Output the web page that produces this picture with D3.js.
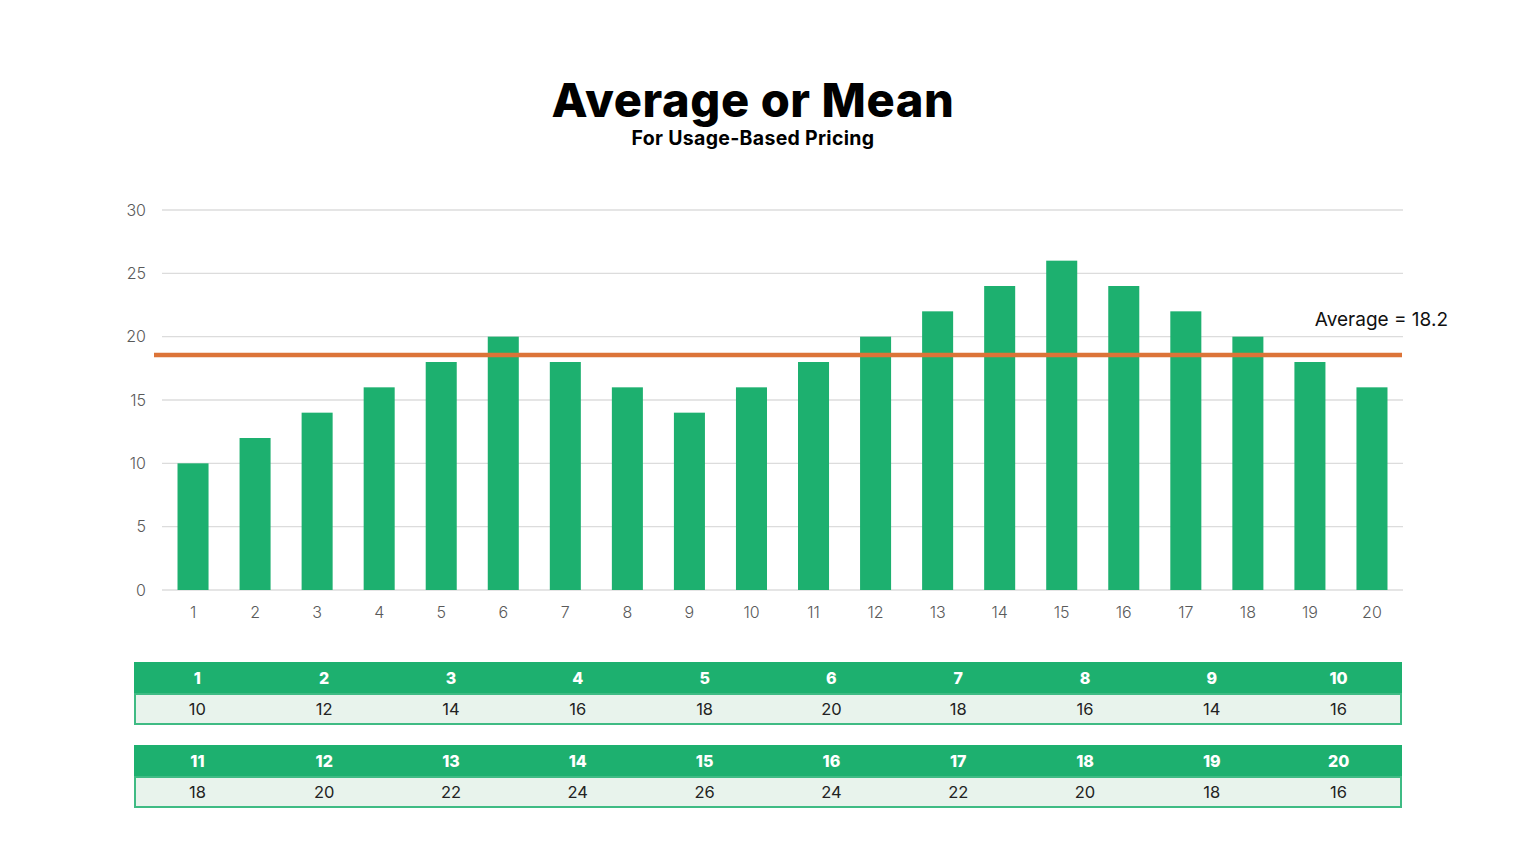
<!DOCTYPE html>
<html>
<head>
<meta charset="utf-8">
<script src="https://cdn.jsdelivr.net/npm/d3@7"></script>
<style>
  body { margin: 0; background: #fff; }
  svg { display: block; font-family: "Inter", "Noto Sans", sans-serif; }
</style>
</head>
<body>
<svg id="chart" width="1536" height="864"></svg>
<script>
// data
var periods = [1, 2, 3, 4, 5, 6, 7, 8, 9, 10, 11, 12, 13, 14, 15, 16, 17, 18, 19, 20];
var usage = [10, 12, 14, 16, 18, 20, 18, 16, 14, 16, 18, 20, 22, 24, 26, 24, 22, 20, 18, 16];
var yTicks = [0, 5, 10, 15, 20, 25, 30];
var avgLinePos = 18.55;          // where the orange line sits on the chart
var avgLabel = "Average = 18.2"; // label as printed
var titleText = "Average or Mean";
var subtitleText = "For Usage-Based Pricing";

var green = "#1db06f", orange = "#dc7438", gridCol = "#dcdcdc", tickCol = "#5a5a5a";

var svg = d3.select("#chart");

// titles
svg.append("text")
    .attr("x", 753).attr("y", 117)
    .attr("text-anchor", "middle")
    .style("font-size", "47px").style("font-weight", 800)
    .style("letter-spacing", "0.6px")
    .text(titleText);
svg.append("text")
    .attr("x", 753).attr("y", 145)
    .attr("text-anchor", "middle")
    .style("font-size", "19.5px").style("font-weight", 700)
    .style("letter-spacing", "0.3px")
    .text(subtitleText);

/**************************** BAR CHART ****************************/
var x = d3.scaleBand().domain(periods).range([162, 1403]).paddingInner(0.5).paddingOuter(0.25),
    y = d3.scaleLinear().domain([0, 30]).range([590, 210]);

// gridlines
svg.append("g")
    .selectAll("line")
    .data(yTicks)
  .enter().append("line")
    .attr("x1", 162).attr("x2", 1403)
    .attr("y1", function(d) { return y(d); })
    .attr("y2", function(d) { return y(d); })
    .style("stroke", gridCol).style("stroke-width", 1.3);

// y labels
svg.append("g")
    .selectAll("text")
    .data(yTicks)
  .enter().append("text")
    .attr("x", 146)
    .attr("y", function(d) { return y(d); })
    .attr("dy", "0.35em")
    .attr("text-anchor", "end")
    .style("font-size", "16px").style("font-weight", 300).style("fill", tickCol)
    .text(function(d) { return d; });

// bars
svg.append("g")
    .selectAll("rect")
    .data(usage)
  .enter().append("rect")
    .attr("x", function(d, i) { return x(periods[i]); })
    .attr("y", function(d) { return y(d); })
    .attr("width", x.bandwidth())
    .attr("height", function(d) { return y(0) - y(d); })
    .style("fill", green);

// x labels
svg.append("g")
    .selectAll("text")
    .data(periods)
  .enter().append("text")
    .attr("x", function(d) { return x(d) + x.bandwidth() / 2; })
    .attr("y", 618)
    .attr("text-anchor", "middle")
    .style("font-size", "16px").style("font-weight", 300).style("fill", tickCol)
    .text(function(d) { return d; });

// average line + label
svg.append("line")
    .attr("x1", 154).attr("x2", 1402)
    .attr("y1", y(avgLinePos)).attr("y2", y(avgLinePos))
    .style("stroke", orange).style("stroke-width", 4.5);
svg.append("text")
    .attr("x", 1448).attr("y", 326)
    .attr("text-anchor", "end")
    .style("font-size", "19px").style("fill", "#111")
    .text(avgLabel);

/**************************** DATA TABLES ****************************/
var colW = (1402 - 134) / 10;
function mk_table(top, keys, vals) {
    var g = svg.append("g");
    g.append("rect")
        .attr("x", 134).attr("y", top)
        .attr("width", 1402 - 134).attr("height", 32)
        .style("fill", green);
    g.append("rect")
        .attr("x", 135).attr("y", top + 32)
        .attr("width", 1402 - 136).attr("height", 30)
        .style("fill", "#e8f3ec").style("stroke", "#3fbb84").style("stroke-width", 2);
    g.selectAll("text.head")
        .data(keys)
      .enter().append("text")
        .attr("class", "head")
        .attr("x", function(d, i) { return 134 + colW * (i + 0.5); })
        .attr("y", top + 16).attr("dy", "0.35em")
        .attr("text-anchor", "middle")
        .style("font-size", "16px").style("font-weight", 800).style("fill", "#fff")
        .text(function(d) { return d; });
    g.selectAll("text.val")
        .data(vals)
      .enter().append("text")
        .attr("class", "val")
        .attr("x", function(d, i) { return 134 + colW * (i + 0.5); })
        .attr("y", top + 47).attr("dy", "0.35em")
        .attr("text-anchor", "middle")
        .style("font-size", "16.5px").style("fill", "#222")
        .text(function(d) { return d; });
}
mk_table(662, periods.slice(0, 10), usage.slice(0, 10));
mk_table(745, periods.slice(10), usage.slice(10));
</script>
</body>
</html>
